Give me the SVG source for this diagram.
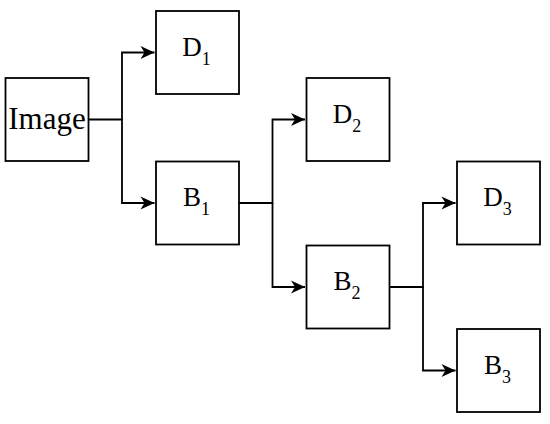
<svg xmlns="http://www.w3.org/2000/svg" width="550" height="424" viewBox="0 0 550 424">
<style>
.box{fill:#fff;stroke:#000;stroke-width:1.8}
.lbl{font-family:"Liberation Serif","Times New Roman",serif;font-size:27px;fill:#000;text-anchor:middle}
.sub{font-size:18px}
.con{fill:none;stroke:#000;stroke-width:1.8}
</style>
<defs>
<marker id="arr" markerUnits="userSpaceOnUse" markerWidth="16" markerHeight="14" viewBox="-15 -7 16 14" refX="0" refY="0" orient="auto">
<path d="M0,0 L-14,-6.5 L-10,0 L-14,6.5 Z" fill="#000"/>
</marker>
</defs>
<rect width="550" height="424" fill="#fff"/>
<g id="connectors">
<path class="con" d="M88.5,119.5 H122 V52.5 H154.5" marker-end="url(#arr)"/>
<path class="con" d="M122,119.5 V203 H154.5" marker-end="url(#arr)"/>
<path class="con" d="M239,203 H272.5 V119.5 H305" marker-end="url(#arr)"/>
<path class="con" d="M272.5,203 V287 H305" marker-end="url(#arr)"/>
<path class="con" d="M389.5,287 H423 V203 H455.5" marker-end="url(#arr)"/>
<path class="con" d="M423,287 V370.5 H455.5" marker-end="url(#arr)"/>
</g>
<g id="image">
<rect class="box" x="5.5" y="78" width="83" height="83"/>
<text class="lbl" x="47" y="129" style="font-size:31px">Image</text>
</g>
<g id="D1">
<rect class="box" x="156" y="11" width="83" height="83"/>
<text class="lbl" x="196.5" y="55.5">D<tspan class="sub" dy="9">1</tspan></text>
</g>
<g id="B1">
<rect class="box" x="156" y="161.5" width="83" height="83"/>
<text class="lbl" x="196.5" y="206">B<tspan class="sub" dy="9">1</tspan></text>
</g>
<g id="D2">
<rect class="box" x="306.5" y="78" width="83" height="83"/>
<text class="lbl" x="347" y="122.5">D<tspan class="sub" dy="9">2</tspan></text>
</g>
<g id="B2">
<rect class="box" x="306.5" y="245.5" width="83" height="83"/>
<text class="lbl" x="347" y="290">B<tspan class="sub" dy="9">2</tspan></text>
</g>
<g id="D3">
<rect class="box" x="457" y="161.5" width="83" height="83"/>
<text class="lbl" x="497.5" y="206">D<tspan class="sub" dy="9">3</tspan></text>
</g>
<g id="B3">
<rect class="box" x="457" y="329" width="83" height="83"/>
<text class="lbl" x="497.5" y="373.5">B<tspan class="sub" dy="9">3</tspan></text>
</g>
</svg>
